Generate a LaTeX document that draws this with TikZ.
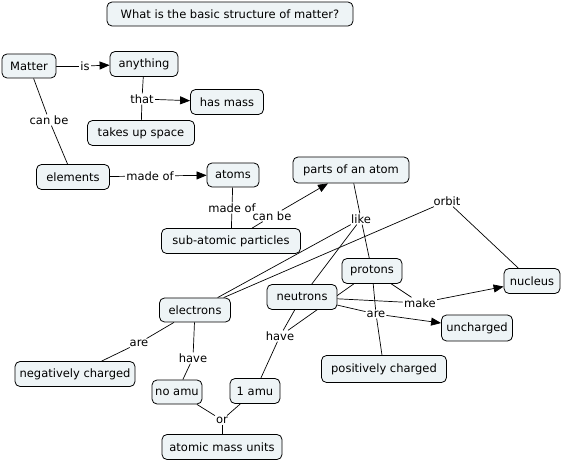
\documentclass[tikz,border=0pt]{standalone}
\usepackage{fontspec}
\setmainfont{DejaVu Sans}
\usetikzlibrary{arrows.meta}
\pgfdeclarelayer{background}
\pgfsetlayers{background,main}
\definecolor{cfill}{HTML}{EEF4F6}
\tikzset{
  concept/.style={draw=black, line width=0.8pt, rounded corners=5pt, fill=cfill, inner sep=1pt, font=\fontsize{11.5}{13}\selectfont},
  lab/.style={fill=white, inner sep=1pt, font=\fontsize{11.5}{13}\selectfont},
  conn/.style={draw=black, line width=0.7pt},
  arr/.style={conn, -{Triangle[length=10pt,width=8pt]}}
}
\begin{document}
\begin{tikzpicture}[x=1pt,y=-1pt]
\useasboundingbox (0,0) rectangle (565,462);
% concepts
\node[concept, minimum width=246pt, minimum height=24pt] (title) at (230,14) {What is the basic structure of matter?};
\node[concept, minimum width=54pt, minimum height=24pt] (matter) at (29,66) {Matter};
\node[concept, minimum width=68pt, minimum height=25pt] (anything) at (144,64) {anything};
\node[concept, minimum width=73pt, minimum height=25pt] (hasmass) at (227,102) {has mass};
\node[concept, minimum width=107pt, minimum height=25pt] (takes) at (141,133) {takes up space};
\node[concept, minimum width=73pt, minimum height=25pt] (elements) at (73,177) {elements};
\node[concept, minimum width=52pt, minimum height=24pt] (atoms) at (233,175) {atoms};
\node[concept, minimum width=116pt, minimum height=26pt] (parts) at (351,170) {parts of an atom};
\node[concept, minimum width=139pt, minimum height=25pt] (subatomic) at (231,241) {sub-atomic particles};
\node[concept, minimum width=60pt, minimum height=25pt] (protons) at (372,271) {protons};
\node[concept, minimum width=56pt, minimum height=25pt] (nucleus) at (532,281) {nucleus};
\node[concept, minimum width=71pt, minimum height=24pt] (electrons) at (195,310) {electrons};
\node[concept, minimum width=70pt, minimum height=25pt] (neutrons) at (302,297) {neutrons};
\node[concept, minimum width=71pt, minimum height=26pt] (uncharged) at (477,328) {uncharged};
\node[concept, minimum width=120pt, minimum height=25pt] (negative) at (75,374) {negatively charged};
\node[concept, minimum width=50pt, minimum height=24pt] (noamu) at (177,392) {no amu};
\node[concept, minimum width=50pt, minimum height=25pt] (oneamu) at (255,391) {1 amu};
\node[concept, minimum width=125pt, minimum height=27pt] (positive) at (384,369) {positively charged};
\node[concept, minimum width=120pt, minimum height=25pt] (ams) at (222,447) {atomic mass units};
% linking phrases
\node[lab] (is) at (85,66) {is};
\node[lab] (that) at (142,99) {that};
\node[lab] (canbeA) at (49,120) {can be};
\node[lab] (madeofA) at (150,176) {made of};
\node[lab] (madeofB) at (232,208) {made of};
\node[lab] (canbeB) at (272,216) {can be};
\node[lab] (like) at (361,219) {like};
\node[lab] (orbit) at (447,201) {orbit};
\node[lab] (make) at (420,303) {make};
\node[lab] (areA) at (376,314) {are};
\node[lab] (haveA) at (280,336) {have};
\node[lab] (haveB) at (193,358) {have};
\node[lab] (areB) at (139,343) {are};
\node[lab] (or) at (222,420) {or};
% connectors
\begin{pgfonlayer}{background}
\draw[conn] (matter) -- (is);
\draw[arr] (is) -- (anything);
\draw[conn] (anything) -- (that);
\draw[conn] (that) -- (takes);
\draw[arr] (that) -- (hasmass);
\draw[conn] (matter) -- (canbeA);
\draw[conn] (canbeA) -- (elements);
\draw[conn] (elements) -- (madeofA);
\draw[arr] (madeofA) -- (atoms);
\draw[conn] (atoms) -- (madeofB);
\draw[conn] (madeofB) -- (subatomic);
\draw[conn] (subatomic) -- (canbeB);
\draw[arr] (canbeB) -- (parts);
\draw[conn] (parts) -- (like);
\draw[conn] (like) -- (protons);
\draw[conn] (like) -- (electrons);
\draw[conn] (like) -- (neutrons);
\draw[conn] (electrons) -- (orbit);
\draw[conn] (orbit) -- (nucleus);
\draw[conn] (protons) -- (make);
\draw[conn] (neutrons) -- (make);
\draw[arr] (make) -- (nucleus);
\draw[conn] (neutrons) -- (areA);
\draw[conn] (protons) -- (areA);
\draw[arr] (areA) -- (uncharged);
\draw[conn] (areA) -- (positive);
\draw[conn] (neutrons) -- (haveA);
\draw[conn] (protons) -- (haveA);
\draw[conn] (haveA) -- (oneamu);
\draw[conn] (electrons) -- (haveB);
\draw[conn] (haveB) -- (noamu);
\draw[conn] (electrons) -- (areB);
\draw[conn] (areB) -- (negative);
\draw[conn] (noamu) -- (or);
\draw[conn] (oneamu) -- (or);
\draw[conn] (or) -- (ams);
\end{pgfonlayer}
\end{tikzpicture}
\end{document}
